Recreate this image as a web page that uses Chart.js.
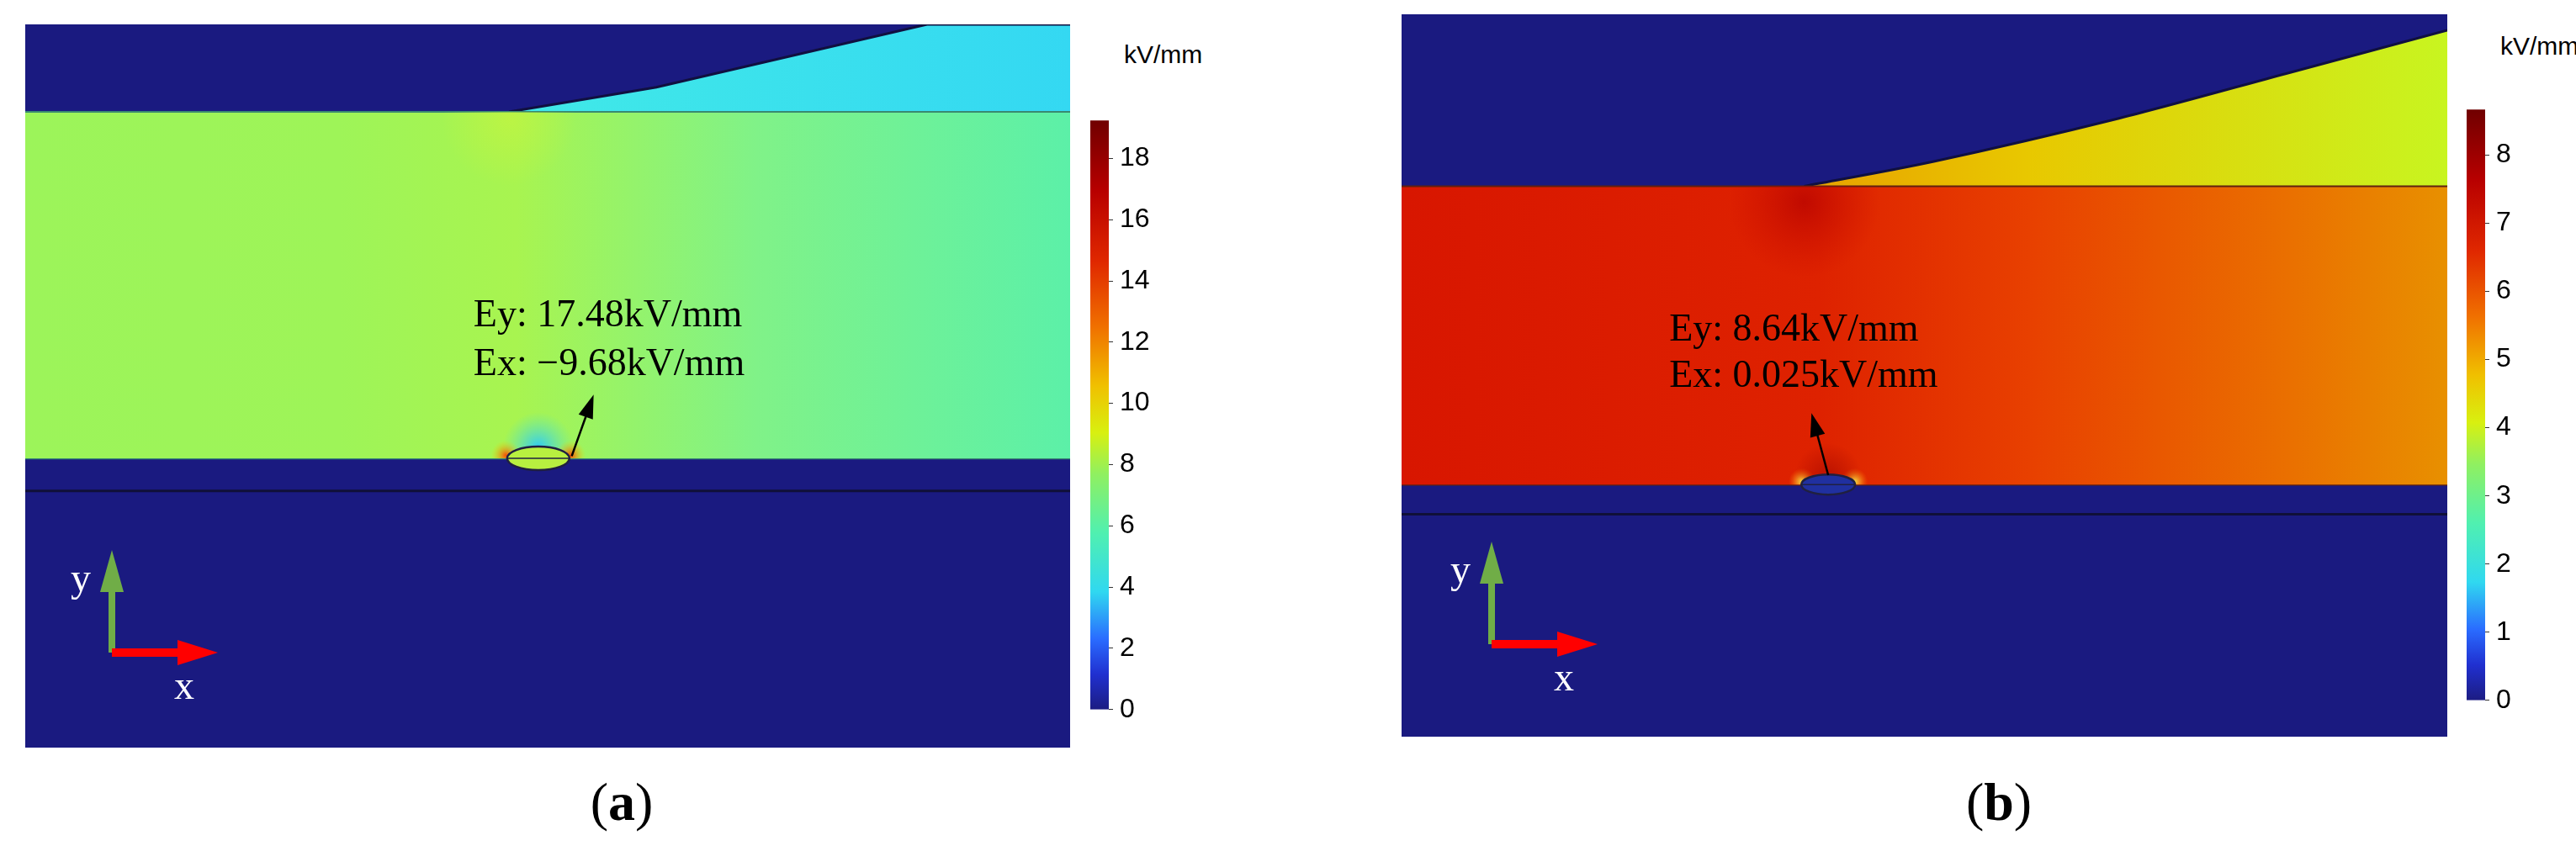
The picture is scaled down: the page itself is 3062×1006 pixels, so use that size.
<!DOCTYPE html>
<html><head><meta charset="utf-8">
<script src="https://cdn.jsdelivr.net/npm/chart.js@4.4.1/dist/chart.umd.min.js"></script>
<style>
html,body{margin:0;padding:0;background:#fff;width:3062px;height:1006px;overflow:hidden;position:relative;font-family:"Liberation Serif",serif}
canvas{position:absolute}
.lbl{position:absolute;font-family:"Liberation Serif",serif;font-size:64px;color:#000;transform:translate(-50%,-50%)}
.unit{position:absolute;font-family:"Liberation Sans",sans-serif;font-size:30px;color:#000}
</style></head><body>
<canvas id="fa" style="left:30px;top:29px;width:1242px;height:860px"></canvas>
<canvas id="fb" style="left:1666px;top:17px;width:1243px;height:859px"></canvas>
<canvas id="ca" style="left:1296px;top:116px;width:90px;height:755px"></canvas>
<canvas id="cb" style="left:2932px;top:103px;width:90px;height:757px"></canvas>
<div class="unit" style="left:1336px;top:48px">kV/mm</div>
<div class="unit" style="left:2972px;top:38px">kV/mm</div>
<div class="lbl" style="left:739px;top:954px">(<b>a</b>)</div>
<div class="lbl" style="left:2376px;top:954px">(<b>b</b>)</div>
<script>
// ---- data (domain units 0..100 for geometry, kV/mm for colour scale) ----
const aLayerTop = 87.9, aLayerBottom = 40.0, aLowerLine = 35.5;
const aCurveX = [46.3, 60.4, 86.3, 100];
const aCurveY = [87.9, 91.3, 100, 100];
const aDefect = [49.1, 40.0];
const aArrowFrom = [52.3, 40.3], aArrowTo = [54.4, 48.8];
const aTextPos = [42.9, 59.7, 52.9];
const aTexts = ["Ey: 17.48kV/mm", "Ex: \u22129.68kV/mm"];
const aScaleMax = 19.24;
const aTicks = [0, 2, 4, 6, 8, 10, 12, 14, 16, 18];

const bLayerTop = 76.2, bLayerBottom = 34.9, bLowerLine = 30.8;
const bCurveX = [38.5, 50.8, 68.6, 84.6, 100];
const bCurveY = [76.2, 79.6, 85.6, 91.8, 97.8];
const bDefect = [40.8, 34.9];
const bArrowFrom = [40.8, 36.2], bArrowTo = [39.2, 44.8];
const bTextPos = [25.6, 56.2, 49.8];
const bTexts = ["Ey: 8.64kV/mm", "Ex: 0.025kV/mm"];
const bScaleMax = 8.67;
const bTicks = [0, 1, 2, 3, 4, 5, 6, 7, 8];

const NAVY = '#1a1a80';
const jet = [[0,'#1c1c82'],[0.06,'#2030d0'],[0.12,'#2a6cff'],[0.2,'#30d8f0'],[0.3,'#50f0b0'],[0.4,'#90f060'],[0.47,'#d8f010'],[0.55,'#f0c000'],[0.65,'#f07000'],[0.76,'#e02800'],[0.88,'#b80000'],[1,'#700000']];

function hGrad(ctx, area, stops){
  const g = ctx.createLinearGradient(area.left,0,area.right,0);
  stops.forEach(s=>g.addColorStop(s[0],s[1])); return g;
}
function pts(xs,ys){return xs.map((x,i)=>({x:x,y:ys[i]}));}

function fieldChart(id, cfg){
  const el = document.getElementById(id);
  const fx = {
    id:'fx',
    beforeDatasetsDraw(chart){
      const {ctx,chartArea:a} = chart;
      ctx.save(); ctx.fillStyle=NAVY; ctx.fillRect(a.left,a.top,a.right-a.left,a.bottom-a.top); ctx.restore();
    },
    afterDatasetsDraw(chart){
      const {ctx,scales:{x,y},chartArea:a} = chart;
      ctx.save();
      ctx.beginPath(); ctx.rect(a.left,a.top,a.right-a.left,a.bottom-a.top); ctx.clip();
      cfg.glows.forEach(g=>{
        const cx=x.getPixelForValue(g[0]), cy=y.getPixelForValue(g[1]);
        const rg=ctx.createRadialGradient(cx,cy,0,cx,cy,g[2]);
        rg.addColorStop(0,g[3]); rg.addColorStop(1,g[4]);
        ctx.fillStyle=rg;
        const top=y.getPixelForValue(cfg.top), bot=y.getPixelForValue(cfg.bottom);
        ctx.fillRect(cx-g[2],Math.max(top,cy-g[2]),2*g[2],Math.min(bot,cy+g[2])-Math.max(top,cy-g[2]));
      });
      const ex=x.getPixelForValue(cfg.defect[0]), ey=y.getPixelForValue(cfg.defect[1]);
      ctx.beginPath(); ctx.ellipse(ex,ey,cfg.erx,cfg.ery,0,0,Math.PI*2);
      ctx.fillStyle=cfg.efill; ctx.fill();
      ctx.lineWidth=2.5; ctx.strokeStyle='#202040'; ctx.stroke();
      ctx.beginPath(); ctx.moveTo(ex-cfg.erx,ey); ctx.lineTo(ex+cfg.erx,ey); ctx.lineWidth=1.5; ctx.stroke();
      const x0=x.getPixelForValue(cfg.af[0]), y0=y.getPixelForValue(cfg.af[1]);
      const x1=x.getPixelForValue(cfg.at[0]), y1=y.getPixelForValue(cfg.at[1]);
      const ang=Math.atan2(y1-y0,x1-x0);
      ctx.strokeStyle='#000'; ctx.fillStyle='#000'; ctx.lineWidth=2.5;
      ctx.beginPath(); ctx.moveTo(x0,y0); ctx.lineTo(x1-18*Math.cos(ang),y1-18*Math.sin(ang)); ctx.stroke();
      ctx.beginPath(); ctx.moveTo(x1,y1);
      ctx.lineTo(x1-28*Math.cos(ang)+9*Math.sin(ang), y1-28*Math.sin(ang)-9*Math.cos(ang));
      ctx.lineTo(x1-28*Math.cos(ang)-9*Math.sin(ang), y1-28*Math.sin(ang)+9*Math.cos(ang));
      ctx.closePath(); ctx.fill();
      ctx.font='46px "Liberation Serif"'; ctx.textBaseline='middle'; ctx.textAlign='left';
      ctx.fillText(cfg.texts[0], x.getPixelForValue(cfg.tp[0]), y.getPixelForValue(cfg.tp[1]));
      ctx.fillText(cfg.texts[1], x.getPixelForValue(cfg.tp[0]), y.getPixelForValue(cfg.tp[2]));
      const ox=a.left+cfg.orig[0], oy=a.top+cfg.orig[1];
      ctx.fillStyle='#70ad47'; ctx.fillRect(ox-4,oy-92,8,92);
      ctx.beginPath(); ctx.moveTo(ox,oy-122); ctx.lineTo(ox-14,oy-72); ctx.lineTo(ox+14,oy-72); ctx.closePath(); ctx.fill();
      ctx.fillStyle='#ff0000'; ctx.fillRect(ox,oy-5,82,10);
      ctx.beginPath(); ctx.moveTo(ox+126,oy); ctx.lineTo(ox+78,oy-15); ctx.lineTo(ox+78,oy+15); ctx.closePath(); ctx.fill();
      ctx.fillStyle='#fff'; ctx.font='48px "Liberation Serif"'; ctx.textAlign='center';
      ctx.fillText('y', ox-37, oy-86); ctx.fillText('x', ox+86, oy+42);
      ctx.restore();
    }
  };
  return new Chart(el,{
    type:'line',
    data:{datasets:[
      {data:pts([0,100],[cfg.top,cfg.top]), fill:{value:cfg.bottom}, borderColor:cfg.edge, borderWidth:2,
       backgroundColor:(c)=>c.chart.chartArea?hGrad(c.chart.ctx,c.chart.chartArea,cfg.layer):cfg.layer[0][1], pointRadius:0},
      {data:pts([0,100],[cfg.bottom,cfg.bottom]), borderColor:cfg.edge, borderWidth:2.5, pointRadius:0, fill:false},
      {data:pts(cfg.cx,cfg.cy), fill:{value:cfg.top}, borderColor:'#101040', borderWidth:3, tension:cfg.tension,
       backgroundColor:(c)=>c.chart.chartArea?hGrad(c.chart.ctx,c.chart.chartArea,cfg.upper):cfg.upper[0][1], pointRadius:0},
      {data:pts([0,100],[cfg.line,cfg.line]), borderColor:'#101038', borderWidth:3, pointRadius:0, fill:false}
    ]},
    options:{responsive:false,animation:false,devicePixelRatio:1,
      layout:{padding:0},
      plugins:{legend:{display:false},tooltip:{enabled:false}},
      scales:{x:{type:'linear',min:0,max:100,display:false},y:{type:'linear',min:0,max:100,display:false}}},
    plugins:[fx]
  });
}
function sizeCanvas(id){const el=document.getElementById(id);el.width=parseInt(el.style.width);el.height=parseInt(el.style.height);}
['fa','fb','ca','cb'].forEach(sizeCanvas);

fieldChart('fa',{top:aLayerTop,bottom:aLayerBottom,line:aLowerLine,cx:aCurveX,cy:aCurveY,defect:aDefect,tension:0,
  af:aArrowFrom,at:aArrowTo,tp:aTextPos,texts:aTexts,erx:37,ery:14,efill:'#b8f040',edge:'#3a8a70',
  layer:[[0,'#9cf45a'],[0.3,'#9ef458'],[0.47,'#a8f450'],[0.7,'#80f288'],[1,'#5cf0a8']],
  upper:[[0,'#48eada'],[0.5,'#40e8e8'],[1,'#34d8f2']],
  glows:[[49.1,41.5,42,'rgba(40,200,255,0.95)','rgba(80,230,200,0)'],[46.0,40.4,18,'rgba(255,60,0,0.9)','rgba(240,220,0,0)'],[52.2,40.4,18,'rgba(255,60,0,0.9)','rgba(240,220,0,0)'],[46.3,87,80,'rgba(200,245,60,0.6)','rgba(200,245,60,0)']],
  orig:[103,747]});
fieldChart('fb',{top:bLayerTop,bottom:bLayerBottom,line:bLowerLine,cx:bCurveX,cy:bCurveY,defect:bDefect,tension:0.3,
  af:bArrowFrom,at:bArrowTo,tp:bTextPos,texts:bTexts,erx:32,ery:12,efill:'#2030a0',edge:'#602010',
  layer:[[0,'#d81600'],[0.4,'#de2200'],[0.6,'#e84000'],[0.85,'#ea7000'],[1,'#e89000']],
  upper:[[0.38,'#e8a000'],[0.6,'#e8c800'],[1,'#c8f520']],
  glows:[[38.5,74,90,'rgba(180,0,0,0.7)','rgba(200,10,0,0)'],[38.3,35.3,16,'rgba(255,255,80,1)','rgba(250,120,0,0)'],[43.3,35.3,16,'rgba(255,255,80,1)','rgba(250,120,0,0)'],[40.8,36,40,'rgba(150,0,0,0.5)','rgba(150,0,0,0)']],
  orig:[107,749]});

function colorbar(id,max,ticks){
  new Chart(document.getElementById(id),{
    type:'bar',
    data:{labels:[''],datasets:[{data:[max],barPercentage:1,categoryPercentage:1,borderWidth:0,
      backgroundColor:(c)=>{const a=c.chart.chartArea; if(!a) return '#888';
        const g=c.chart.ctx.createLinearGradient(0,a.bottom,0,a.top); jet.forEach(s=>g.addColorStop(s[0],s[1])); return g;}}]},
    options:{responsive:false,animation:false,devicePixelRatio:1,
      layout:{padding:{top:20,bottom:20}},
      plugins:{legend:{display:false},tooltip:{enabled:false}},
      scales:{x:{display:false},
        y:{position:'right',min:0,max:max,
          afterFit(s){s.width=68;},
          afterBuildTicks(s){s.ticks=ticks.map(v=>({value:v}));},
          border:{display:false},
          grid:{drawOnChartArea:false,drawTicks:true,tickLength:5,color:'#333',offset:false,tickColor:'#333'},
          ticks:{color:'#000',font:{family:'"Liberation Sans"',size:32},padding:8}}}}
  });
}
colorbar('ca',aScaleMax,aTicks);
colorbar('cb',bScaleMax,bTicks);
</script></body></html>
